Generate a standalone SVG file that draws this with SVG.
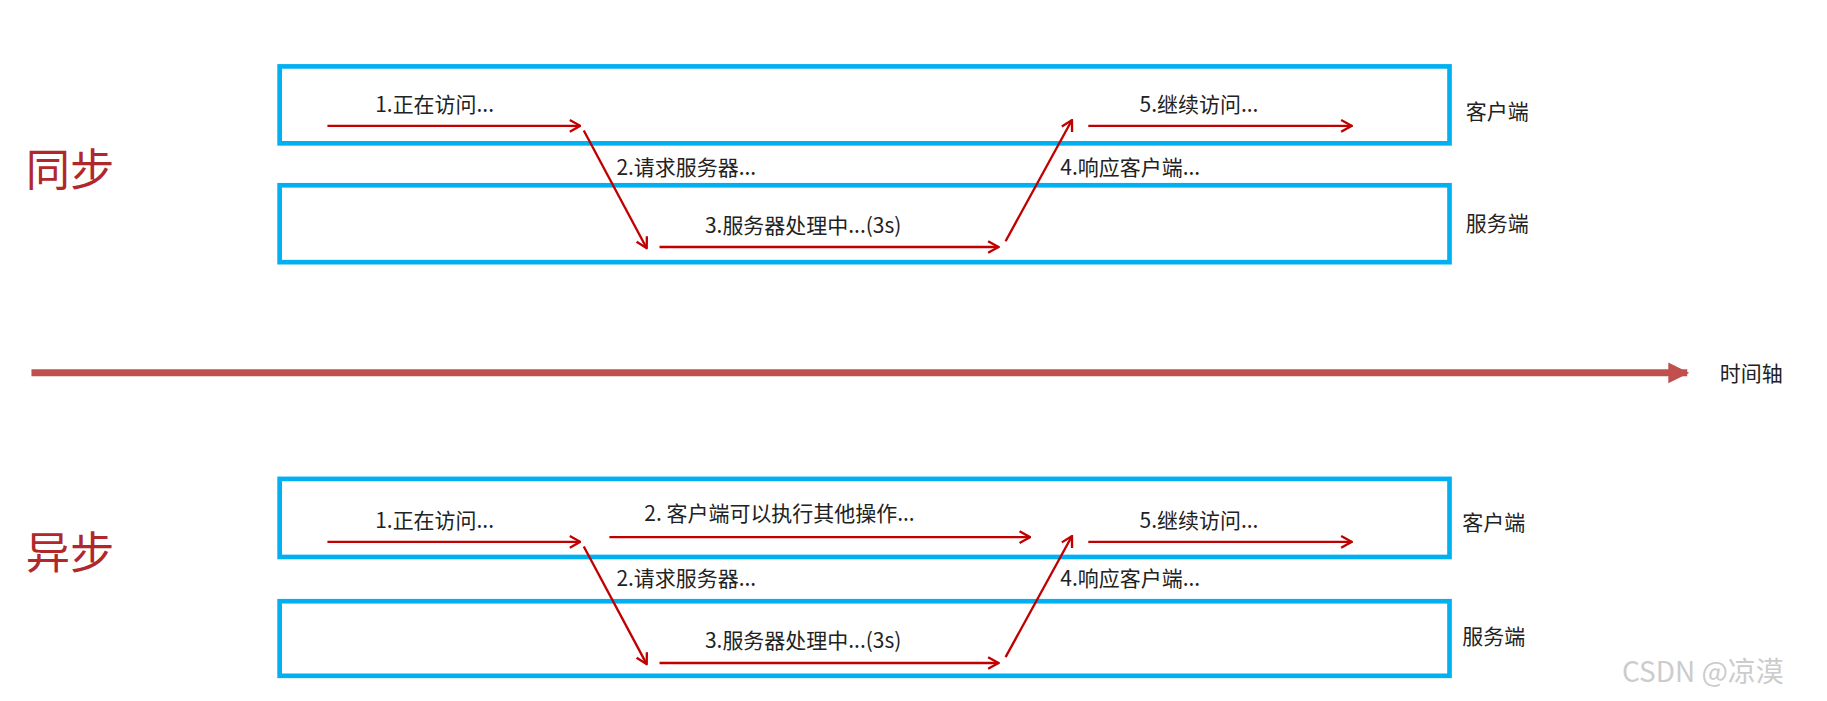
<svg xmlns="http://www.w3.org/2000/svg" width="1827" height="701" viewBox="0 0 1827 701">
<style>
.box{fill:none;stroke:#00B0F0;stroke-width:4}
.ar{stroke:#C00000;stroke-width:2;fill:none;marker-end:url(#v)}
.t{font-family:"Noto Sans CJK SC","Noto Sans",sans-serif;font-size:18px;fill:#222}
.big{font-family:"Noto Sans CJK SC",sans-serif;font-size:38px;fill:#B0282B}
</style>
<defs>
<marker id="v" viewBox="0 0 12 12" refX="11" refY="6" markerWidth="12" markerHeight="12" markerUnits="userSpaceOnUse" orient="auto"><polyline points="2,1 11,6 2,11" fill="none" stroke="#C00000" stroke-width="2"/></marker>
<marker id="big" viewBox="0 0 10 10" refX="9" refY="5" markerWidth="3" markerHeight="4" orient="auto"><path d="M0,0 L10,5 L0,10 Z" fill="#C0504D"/></marker>
</defs>
<rect width="1827" height="701" fill="#fff"/>
<g transform="scale(1.1652)">
<g id="sync-title"><text class="big" x="22" y="160">同步</text></g>
<g id="sync-client"><rect class="box" x="240" y="57" width="1004" height="66"/><text class="t" x="1258" y="102">客户端</text></g>
<g id="sync-server"><rect class="box" x="240" y="159" width="1004" height="66"/><text class="t" x="1258" y="198">服务端</text></g>
<g id="async-title"><text class="big" x="22" y="488">异步</text></g>
<g id="async-client"><rect class="box" x="240" y="411" width="1004" height="67"/><text class="t" x="1255" y="455">客户端</text></g>
<g id="async-server"><rect class="box" x="240" y="516" width="1004" height="64"/><text class="t" x="1255" y="553">服务端</text></g>
<g id="timeline"><line x1="27" y1="320" x2="1448" y2="320" stroke="#C0504D" stroke-width="6" marker-end="url(#big)"/><text class="t" x="1476" y="327">时间轴</text></g>
<g id="connectors">
<line class="ar" x1="281" y1="108" x2="498" y2="108"/>
<line class="ar" x1="501" y1="112" x2="555" y2="213"/>
<line class="ar" x1="566" y1="212" x2="857" y2="212"/>
<line class="ar" x1="863" y1="207" x2="920" y2="103"/>
<line class="ar" x1="934" y1="108" x2="1160" y2="108"/>
<line class="ar" x1="281" y1="465" x2="498" y2="465"/>
<line class="ar" x1="523" y1="461" x2="884" y2="461"/>
<line class="ar" x1="501" y1="469" x2="555" y2="570"/>
<line class="ar" x1="566" y1="569" x2="857" y2="569"/>
<line class="ar" x1="863" y1="564" x2="920" y2="460"/>
<line class="ar" x1="934" y1="465" x2="1160" y2="465"/>
</g>
<g id="labels">
<text class="t" x="322" y="96">1.正在访问...</text>
<text class="t" x="529" y="150">2.请求服务器...</text>
<text class="t" x="605" y="200">3.服务器处理中...(3s)</text>
<text class="t" x="910" y="150">4.响应客户端...</text>
<text class="t" x="978" y="96">5.继续访问...</text>
<text class="t" x="322" y="453">1.正在访问...</text>
<text class="t" x="553" y="447">2. 客户端可以执行其他操作...</text>
<text class="t" x="529" y="503">2.请求服务器...</text>
<text class="t" x="605" y="556">3.服务器处理中...(3s)</text>
<text class="t" x="910" y="503">4.响应客户端...</text>
<text class="t" x="978" y="453">5.继续访问...</text>
</g>
<text x="1392" y="585" font-family="Noto Sans CJK SC,sans-serif" font-size="24" fill="#ccc">CSDN @凉漠</text>
</g>
</svg>
